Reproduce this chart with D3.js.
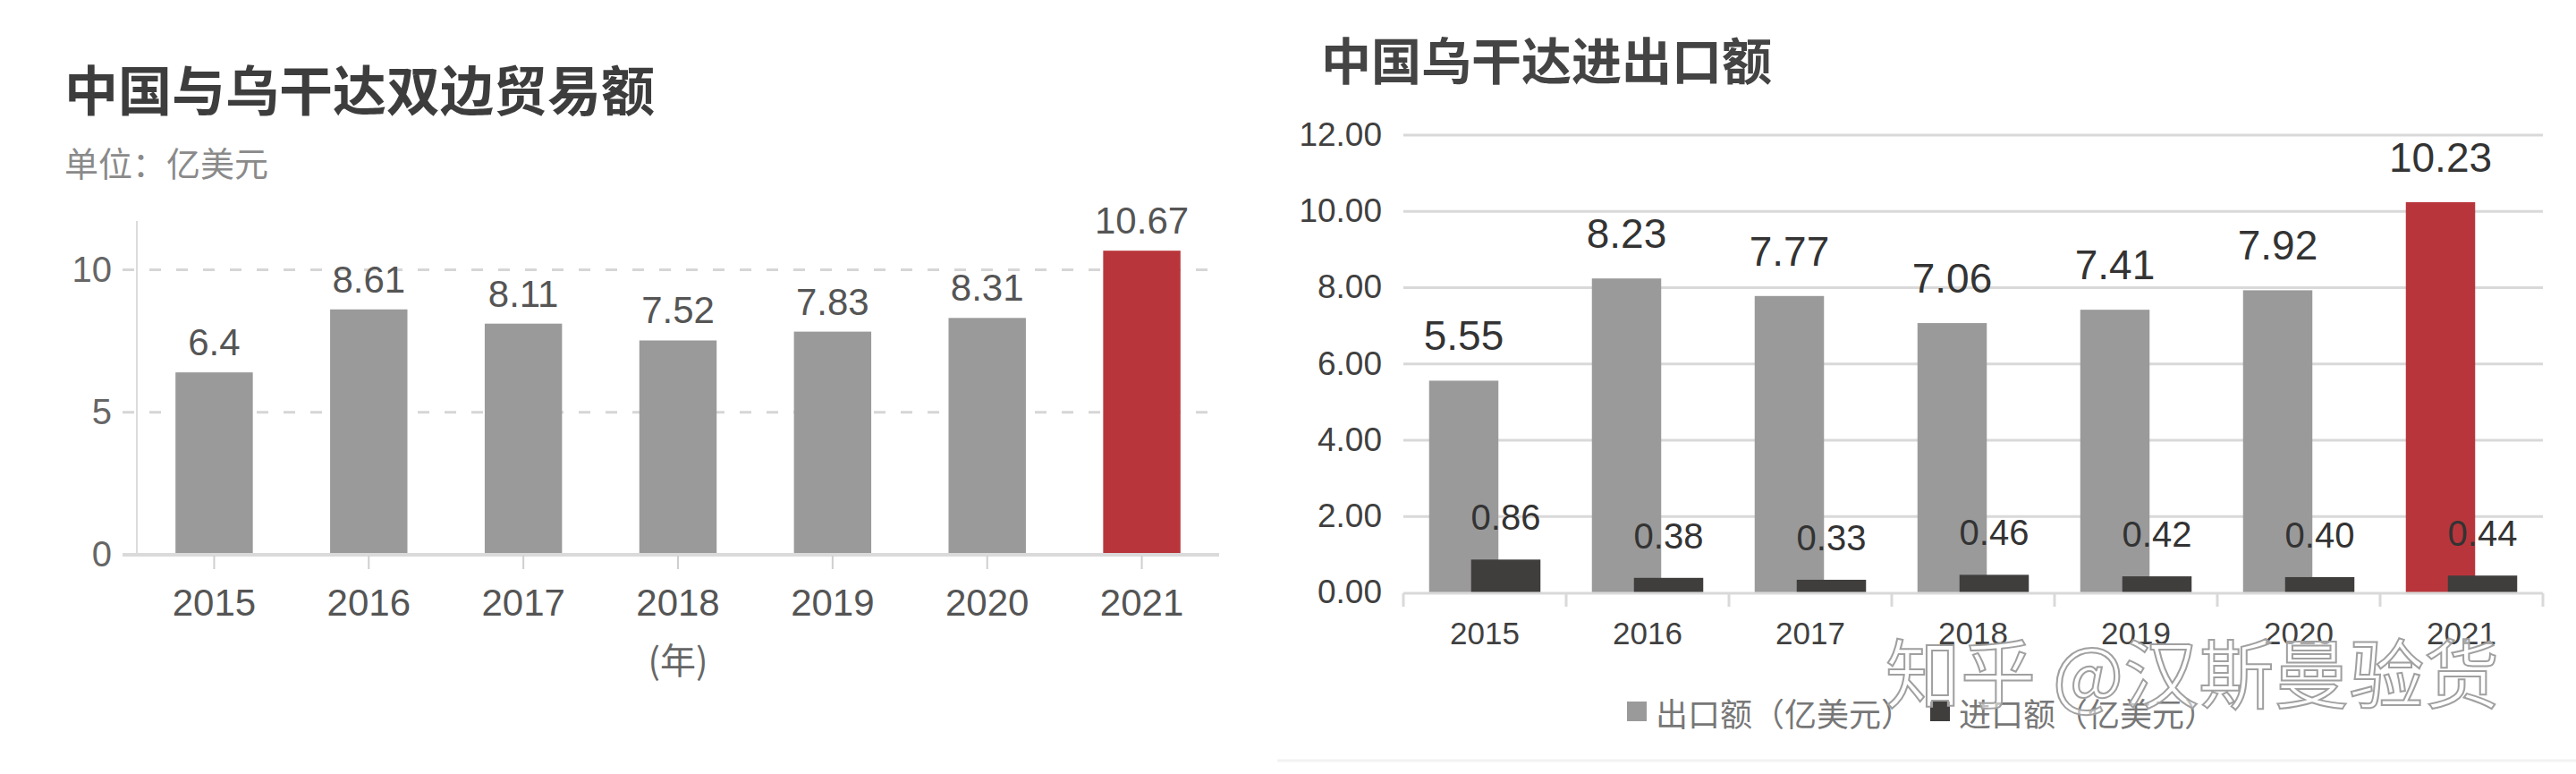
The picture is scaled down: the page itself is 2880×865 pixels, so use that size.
<!DOCTYPE html>
<html>
<head>
<meta charset="utf-8">
<script src="https://cdn.jsdelivr.net/npm/d3@7"></script>
<style>
  body { margin: 0; background: #fff; }
  svg { display: block; }
</style>
</head>
<body>
<svg id="chart"></svg>
<script>
// data
const years = ["2015", "2016", "2017", "2018", "2019", "2020", "2021"];
const tradeTotal = [6.4, 8.61, 8.11, 7.52, 7.83, 8.31, 10.67];
const exportVals = [5.55, 8.23, 7.77, 7.06, 7.41, 7.92, 10.23];
const importVals = [0.86, 0.38, 0.33, 0.46, 0.42, 0.40, 0.44];
const leftTicks = [0, 5, 10];
const rightTicks = [0, 2, 4, 6, 8, 10, 12];
const seriesNames = ["出口额（亿美元）", "进口额（亿美元）"];

const GRAY = "#9a9a9a";
const RED = "#b8363b";
const DARK = "#403d3d";
const latin = "'Liberation Sans', Arial, sans-serif";
const cjk = "'Noto Sans CJK SC', sans-serif";

const svg = d3.select("#chart")
    .attr("width", 2880)
    .attr("height", 865)
    .style("background", "white");

// ---------- left chart: bilateral trade ----------
const left = svg.append("g");

left.append("text")
    .attr("x", 72)
    .attr("y", 97)
    .attr("dominant-baseline", "central")
    .style("font-family", cjk)
    .style("font-size", "60px")
    .style("font-weight", "bold")
    .style("fill", "#3d3d3d")
    .text("中国与乌干达双边贸易额");

left.append("text")
    .attr("x", 72)
    .attr("y", 180)
    .attr("dominant-baseline", "central")
    .style("font-family", cjk)
    .style("font-size", "38px")
    .style("fill", "#8a8a8a")
    .text("单位：亿美元");

const xL = d3.scaleBand()
    .domain(years)
    .range([153, 1363])
    .paddingInner(0.5)
    .paddingOuter(0.25);

const yL = d3.scaleLinear()
    .domain([0, 10])
    .range([620, 301.5]);

// dashed grid
left.selectAll("line.grid")
    .data(leftTicks.filter(d => d > 0))
    .enter()
    .append("line")
    .attr("class", "grid")
    .attr("x1", 137)
    .attr("x2", 1363)
    .attr("y1", d => yL(d))
    .attr("y2", d => yL(d))
    .style("stroke", "#d6d6d6")
    .style("stroke-width", 3)
    .style("stroke-dasharray", "13,17");

// y axis line
left.append("line")
    .attr("x1", 153).attr("x2", 153)
    .attr("y1", 247).attr("y2", 620)
    .style("stroke", "#dcdcdc")
    .style("stroke-width", 2);

// y tick labels
const yAxisL = d3.axisLeft(yL)
    .tickValues(leftTicks)
    .tickSize(0)
    .tickPadding(28);
const yAxisLG = left.append("g").attr("transform", "translate(153,0)");
yAxisL(yAxisLG);
yAxisLG.select(".domain").remove();
yAxisLG.selectAll("text")
    .style("font-family", latin)
    .style("font-size", "40px")
    .style("fill", "#666");

// bars
left.selectAll("rect.bar")
    .data(years)
    .enter()
    .append("rect")
    .attr("class", "bar")
    .attr("x", d => xL(d))
    .attr("y", (d, i) => yL(tradeTotal[i]))
    .attr("width", xL.bandwidth())
    .attr("height", (d, i) => yL(0) - yL(tradeTotal[i]))
    .style("fill", (d, i) => i === years.length - 1 ? RED : GRAY);

// value labels
left.selectAll("text.val")
    .data(years)
    .enter()
    .append("text")
    .attr("class", "val")
    .attr("x", d => xL(d) + xL.bandwidth() / 2)
    .attr("y", (d, i) => yL(tradeTotal[i]) - 19)
    .attr("text-anchor", "middle")
    .style("font-family", latin)
    .style("font-size", "42px")
    .style("fill", "#555")
    .text((d, i) => String(tradeTotal[i]));

// baseline + ticks
left.append("line")
    .attr("x1", 137).attr("x2", 1363)
    .attr("y1", 620).attr("y2", 620)
    .style("stroke", "#dadada")
    .style("stroke-width", 4);

const xAxisL = d3.axisBottom(xL)
    .tickSize(15)
    .tickPadding(22);
const xAxisLG = left.append("g").attr("transform", "translate(0,621)");
xAxisL(xAxisLG);
xAxisLG.select(".domain").remove();
xAxisLG.selectAll(".tick line")
    .style("stroke", "#cfcfcf")
    .style("stroke-width", 2);
xAxisLG.selectAll("text")
    .style("font-family", latin)
    .style("font-size", "42px")
    .style("fill", "#555");

left.append("text")
    .attr("x", xL("2018") + xL.bandwidth() / 2)
    .attr("y", 736)
    .attr("text-anchor", "middle")
    .attr("dominant-baseline", "central")
    .style("font-family", cjk)
    .style("font-size", "40px")
    .style("fill", "#666")
    .text("(年)");

// ---------- right chart: exports / imports ----------
const right = svg.append("g");

right.append("text")
    .attr("x", 1477)
    .attr("y", 64)
    .attr("dominant-baseline", "central")
    .style("font-family", cjk)
    .style("font-size", "56px")
    .style("font-weight", "bold")
    .style("fill", "#444")
    .text("中国乌干达进出口额");

const xR = d3.scaleBand()
    .domain(years)
    .range([1569, 2843])
    .padding(0);

const sub = d3.scalePoint()
    .domain(["export", "import"])
    .range([-23.5, 23.5]);
const barW = 77.5;

const yR = d3.scaleLinear()
    .domain([0, 12])
    .range([662, 150.5]);

// grid
const gridR = d3.axisLeft(yR)
    .tickValues(rightTicks.filter(d => d > 0))
    .tickSize(-(2843 - 1569))
    .tickFormat("");
const gridRG = right.append("g").attr("transform", "translate(1569,0)");
gridR(gridRG);
gridRG.select(".domain").remove();
gridRG.selectAll(".tick line")
    .style("stroke", "#d9d9d9")
    .style("stroke-width", 3);

// y labels
const yAxisR = d3.axisLeft(yR)
    .tickValues(rightTicks)
    .tickSize(0)
    .tickPadding(24)
    .tickFormat(d3.format(".2f"));
const yAxisRG = right.append("g").attr("transform", "translate(1569,0)");
yAxisR(yAxisRG);
yAxisRG.select(".domain").remove();
yAxisRG.selectAll("text")
    .style("font-family", latin)
    .style("font-size", "37px")
    .style("fill", "#404040");

const center = d => xR(d) + xR.bandwidth() / 2;

// export bars
right.selectAll("rect.exp")
    .data(years)
    .enter()
    .append("rect")
    .attr("class", "exp")
    .attr("x", d => center(d) + sub("export") - barW / 2)
    .attr("y", (d, i) => yR(exportVals[i]))
    .attr("width", barW)
    .attr("height", (d, i) => yR(0) - yR(exportVals[i]))
    .style("fill", (d, i) => i === years.length - 1 ? RED : GRAY);

// import bars
right.selectAll("rect.imp")
    .data(years)
    .enter()
    .append("rect")
    .attr("class", "imp")
    .attr("x", d => center(d) + sub("import") - barW / 2)
    .attr("y", (d, i) => yR(importVals[i]))
    .attr("width", barW)
    .attr("height", (d, i) => yR(0) - yR(importVals[i]))
    .style("fill", DARK);

// labels
right.selectAll("text.expval")
    .data(years)
    .enter()
    .append("text")
    .attr("class", "expval")
    .attr("x", d => center(d) + sub("export"))
    .attr("y", (d, i) => yR(exportVals[i]) - 34)
    .attr("text-anchor", "middle")
    .style("font-family", latin)
    .style("font-size", "46px")
    .style("fill", "#333")
    .text((d, i) => exportVals[i].toFixed(2));

right.selectAll("text.impval")
    .data(years)
    .enter()
    .append("text")
    .attr("class", "impval")
    .attr("x", d => center(d) + sub("import"))
    .attr("y", (d, i) => yR(importVals[i]) - 33)
    .attr("text-anchor", "middle")
    .style("font-family", latin)
    .style("font-size", "40px")
    .style("fill", "#333")
    .text((d, i) => importVals[i].toFixed(2));

// baseline and category boundary ticks
right.append("line")
    .attr("x1", 1569).attr("x2", 2843)
    .attr("y1", 663).attr("y2", 663)
    .style("stroke", "#d9d9d9")
    .style("stroke-width", 3);

right.selectAll("line.sep")
    .data(years.concat(["end"]))
    .enter()
    .append("line")
    .attr("class", "sep")
    .attr("x1", (d, i) => i < years.length ? xR(d) : xR.range()[1])
    .attr("x2", (d, i) => i < years.length ? xR(d) : xR.range()[1])
    .attr("y1", 663)
    .attr("y2", 678)
    .style("stroke", "#d9d9d9")
    .style("stroke-width", 3);

const xAxisR = d3.axisBottom(xR).tickSize(0).tickPadding(32);
const xAxisRG = right.append("g").attr("transform", "translate(0,663)");
xAxisR(xAxisRG);
xAxisRG.select(".domain").remove();
xAxisRG.selectAll("text")
    .style("font-family", latin)
    .style("font-size", "35px")
    .style("fill", "#404040");

// legend
const legend = right.append("g");
const legendX = [1819, 2158];
[GRAY, DARK].forEach((c, i) => {
    legend.append("rect")
        .attr("x", legendX[i])
        .attr("y", 784)
        .attr("width", 22)
        .attr("height", 22)
        .style("fill", c);
    legend.append("text")
        .attr("x", legendX[i] + 32)
        .attr("y", 796)
        .attr("dominant-baseline", "central")
        .style("font-family", cjk)
        .style("font-size", "36px")
        .style("fill", "#777")
        .text(seriesNames[i]);
});

// watermark
right.append("text")
    .attr("x", 2108)
    .attr("y", 748)
    .attr("dominant-baseline", "central")
    .style("font-family", cjk)
    .style("font-size", "84px")
    .style("fill", "rgba(255,255,255,0.55)")
    .style("stroke", "#a0a0a0")
    .style("stroke-width", 2)
    .text("知乎 @汉斯曼验货");

// faint bottom rule
right.append("line")
    .attr("x1", 1428).attr("x2", 2880)
    .attr("y1", 850).attr("y2", 850)
    .style("stroke", "#f2f2f2")
    .style("stroke-width", 3);
</script>
</body>
</html>
